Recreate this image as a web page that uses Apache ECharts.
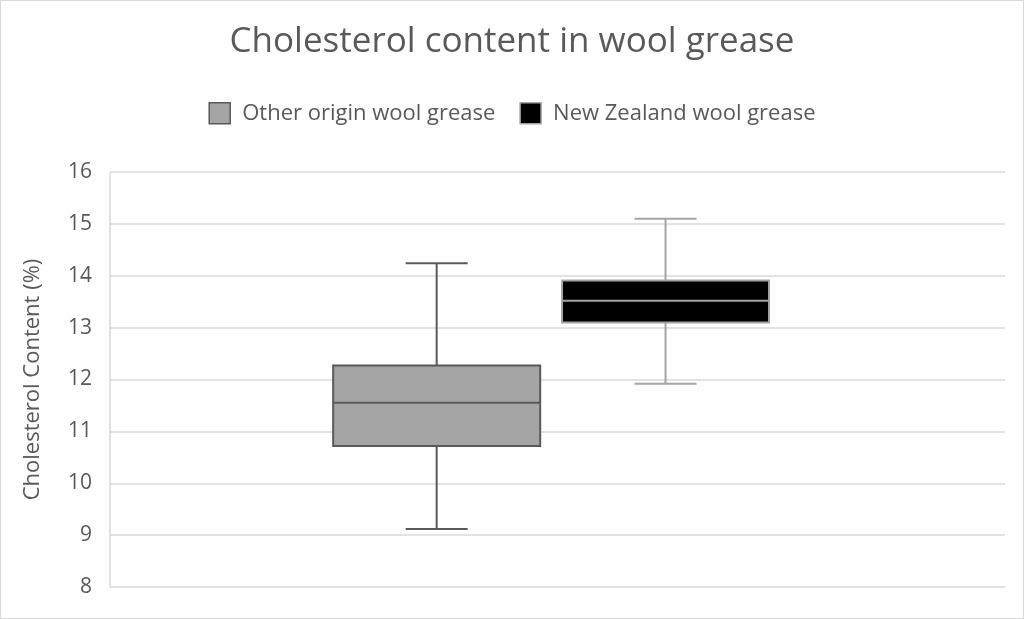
<!DOCTYPE html>
<html>
<head>
  <meta charset="utf-8">
  <script src="https://cdn.jsdelivr.net/npm/echarts@6/dist/echarts.min.js"></script>
  <title>Cholesterol content in wool grease</title>
  <style type="text/css">
    html,
    body {
      margin: 0;
      background-color: #fff;
    }

    #main {
      width: 1024px;
      height: 619px;
      box-sizing: border-box;
      border: 1px solid #d9d9d9;
    }
  </style>
</head>
<body>
  <div id="main"></div>
  <script type="text/javascript">
    // data: [min, Q1, median, Q3, max]
    var categories = [''];
    var seriesNames = ['Other origin wool grease', 'New Zealand wool grease'];
    var otherOrigin = [9.12, 10.72, 11.55, 12.27, 14.24];
    var newZealand = [11.92, 13.10, 13.52, 13.91, 15.10];
    var yTicks = [8, 9, 10, 11, 12, 13, 14, 15, 16];

    var textColor = '#595959';
    var fontFamily = '"Open Sans", sans-serif';

    // look of each box
    var boxStyles = [
      { offset: -0.135, fill: '#a5a5a5', stroke: '#595959', whisker: '#595959' },
      { offset: 0.1207, fill: '#000000', stroke: '#a5a5a5', whisker: '#a5a5a5' }
    ];
    var boxWidth = 0.2313;
    var capWidth = 0.0693;

    function makeRender(idx) {
      var st = boxStyles[idx];
      return function (params, api) {
        var band = api.size([1, 0])[0];
        var c = api.coord([api.value(0), api.value(3)]);
        var x = c[0] + st.offset * band;
        var yMin = api.coord([api.value(0), api.value(1)])[1];
        var yQ1 = api.coord([api.value(0), api.value(2)])[1];
        var yMed = c[1];
        var yQ3 = api.coord([api.value(0), api.value(4)])[1];
        var yMax = api.coord([api.value(0), api.value(5)])[1];
        var hw = boxWidth * band / 2;
        var hc = capWidth * band / 2;
        var wl = { stroke: st.whisker, lineWidth: 2 };
        return {
          type: 'group',
          children: [
            { type: 'line', shape: { x1: x, y1: yQ3, x2: x, y2: yMax }, style: wl },
            { type: 'line', shape: { x1: x - hc, y1: yMax, x2: x + hc, y2: yMax }, style: wl },
            { type: 'line', shape: { x1: x, y1: yQ1, x2: x, y2: yMin }, style: wl },
            { type: 'line', shape: { x1: x - hc, y1: yMin, x2: x + hc, y2: yMin }, style: wl },
            {
              type: 'rect',
              shape: { x: x - hw, y: yQ3, width: hw * 2, height: yQ1 - yQ3 },
              style: { fill: st.fill, stroke: st.stroke, lineWidth: 2 }
            },
            { type: 'line', shape: { x1: x - hw, y1: yMed, x2: x + hw, y2: yMed }, style: { stroke: st.stroke, lineWidth: 2 } }
          ]
        };
      };
    }

    var myChart = echarts.init(document.getElementById('main'));

    var option = {
      animation: false,
      textStyle: { fontFamily: fontFamily },
      title: {
        text: 'Cholesterol content in wool grease',
        left: 'center',
        top: 19,
        textStyle: { color: textColor, fontSize: 35, fontWeight: 'normal', fontFamily: fontFamily }
      },
      legend: {
        top: 96,
        left: 'center',
        icon: 'rect',
        itemWidth: 21,
        itemHeight: 21,
        itemGap: 24,
        textStyle: { color: textColor, fontSize: 22, padding: [0, 0, 0, 7], fontFamily: fontFamily },
        data: [
          { name: seriesNames[0], itemStyle: { color: boxStyles[0].fill, borderColor: boxStyles[0].stroke, borderWidth: 1.5 } },
          { name: seriesNames[1], itemStyle: { color: boxStyles[1].fill, borderColor: boxStyles[1].stroke, borderWidth: 1.5 } }
        ]
      },
      grid: {
        left: 109,
        right: 18,
        top: 171,
        bottom: 31
      },
      xAxis: {
        type: 'category',
        data: categories,
        axisLine: { show: false },
        axisTick: { show: false },
        axisLabel: { show: false }
      },
      yAxis: {
        type: 'value',
        min: yTicks[0],
        max: yTicks[yTicks.length - 1],
        interval: 1,
        name: 'Cholesterol Content (%)',
        nameLocation: 'middle',
        nameGap: 66,
        nameTextStyle: { color: textColor, fontSize: 22, fontFamily: fontFamily },
        axisLine: { show: true, lineStyle: { color: '#d9d9d9', width: 1.5 } },
        axisTick: { show: false },
        axisLabel: { color: textColor, fontSize: 21, margin: 18, fontFamily: fontFamily },
        splitLine: { lineStyle: { color: '#d9d9d9', width: 1.5 } }
      },
      series: [
        {
          name: seriesNames[0],
          type: 'custom',
          renderItem: makeRender(0),
          itemStyle: { color: boxStyles[0].fill, borderColor: boxStyles[0].stroke },
          encode: { x: 0, y: [1, 2, 3, 4, 5] },
          data: [[0].concat(otherOrigin)]
        },
        {
          name: seriesNames[1],
          type: 'custom',
          renderItem: makeRender(1),
          itemStyle: { color: boxStyles[1].fill, borderColor: boxStyles[1].stroke },
          encode: { x: 0, y: [1, 2, 3, 4, 5] },
          data: [[0].concat(newZealand)]
        }
      ]
    };

    myChart.setOption(option);
  </script>
</body>
</html>
